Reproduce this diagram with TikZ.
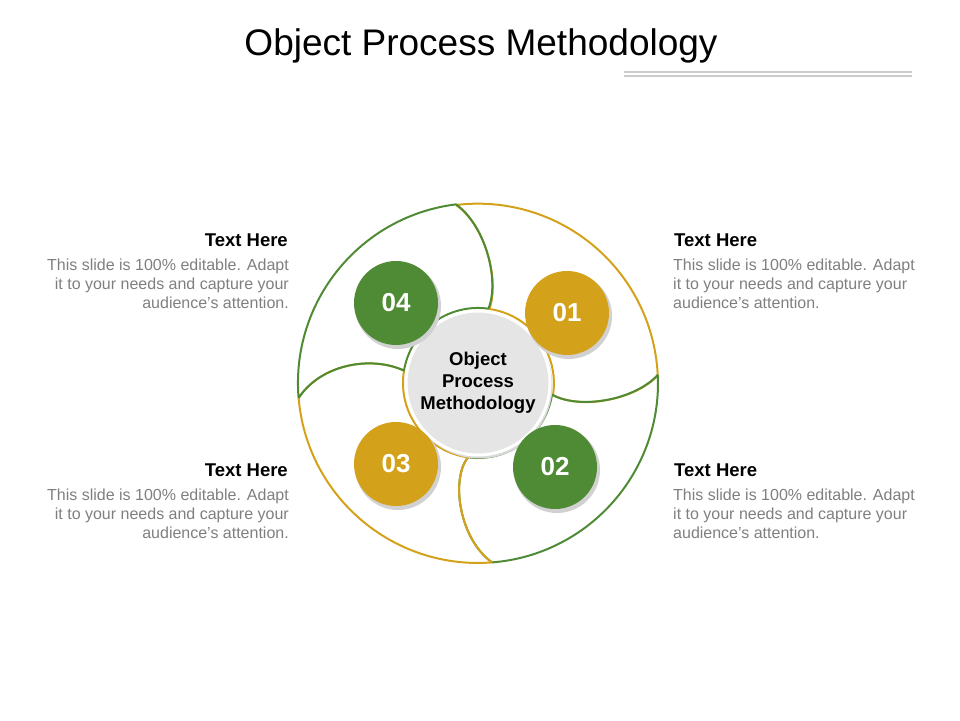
\documentclass[tikz,border=0pt]{standalone}
\usepackage{fontspec}
\setmainfont{Liberation Sans}
\definecolor{gr}{HTML}{4F8B35}
\definecolor{yl}{HTML}{D4A21A}
\definecolor{tx}{HTML}{7F7F7F}
\begin{document}
\begin{tikzpicture}[x=1pt,y=1pt,
  num/.style={circle,minimum size=84pt,inner sep=0pt,text=white,font=\fontsize{26}{28}\selectfont\bfseries},
  head/.style={font=\fontsize{18.5}{21}\selectfont\bfseries},
  body/.style={text=tx,font=\fontsize{16}{19}\selectfont,inner sep=0pt}]
\useasboundingbox (0,0) rectangle (960,720);
\node[font=\fontsize{37}{40}\selectfont] (title) at (481,674) {Object Process Methodology};
\draw[gray!40,line width=1.2pt] (624,648) -- (912,648) (624,644) -- (912,644);
\begin{scope}[shift={(478,337)},line width=2pt,line join=round]
\draw[yl] (-22,178) arc[start angle=97,end angle=2.6,radius=180] .. controls (157,-17) and (102,-27) .. (75,-12) arc[start angle=-9,end angle=82,radius=75] .. controls (22,103) and (7,158) .. (-22,178);
\draw[gr] (179.8,8.2) arc[start angle=2.6,end angle=-85.5,radius=180] .. controls (-18,-157) and (-28,-97) .. (-10,-74.3) arc[start angle=-97.6,end angle=-9,radius=75] .. controls (102,-27) and (157,-17) .. (179.8,8.2);
\draw[yl] (14.1,-179.4) arc[start angle=-85.5,end angle=-175.2,radius=180] .. controls (-158,18) and (-108,28) .. (-74,12.4) arc[start angle=170.5,end angle=262.4,radius=75] .. controls (-28,-97) and (-18,-157) .. (14.1,-179.4);
\draw[gr] (-179.4,-15.1) arc[start angle=184.8,end angle=97,radius=180] .. controls (7,158) and (22,103) .. (10.4,74.3) arc[start angle=82,end angle=170.5,radius=75] .. controls (-108,28) and (-158,18) .. (-179.4,-15.1);
\fill[black!15] (1.5,-2.5) circle (73);
\end{scope}
\node[circle,fill=black!10,draw=white,line width=3pt,minimum size=144pt,align=center,font=\fontsize{18.5}{22}\selectfont\bfseries] (center) at (478,337) {Object\\Process\\Methodology};
\foreach \x/\y in {396/417,567/407,396/256,555/253}{
  \fill[black!18] (\x+2,\y-3) circle (43);
}
\node[num,fill=gr] (n04) at (396,417) {04};
\node[num,fill=yl] (n01) at (567,407) {01};
\node[num,fill=yl] (n03) at (396,256) {03};
\node[num,fill=gr] (n02) at (555,253) {02};
\node[head,anchor=base east,inner sep=0pt] (h1) at (288,473) {Text Here};
\node[body,anchor=north east,align=right] (b1) at (289,461) {This slide is 100\% editable. Adapt\\it to your needs and capture your\\audience's attention.};
\node[head,anchor=base west,inner sep=0pt] (h2) at (674,473) {Text Here};
\node[body,anchor=north west,align=left] (b2) at (673,461) {This slide is 100\% editable. Adapt\\it to your needs and capture your\\audience's attention.};
\node[head,anchor=base east,inner sep=0pt] (h3) at (288,243) {Text Here};
\node[body,anchor=north east,align=right] (b3) at (289,231) {This slide is 100\% editable. Adapt\\it to your needs and capture your\\audience's attention.};
\node[head,anchor=base west,inner sep=0pt] (h4) at (674,243) {Text Here};
\node[body,anchor=north west,align=left] (b4) at (673,231) {This slide is 100\% editable. Adapt\\it to your needs and capture your\\audience's attention.};
\end{tikzpicture}
\end{document}
